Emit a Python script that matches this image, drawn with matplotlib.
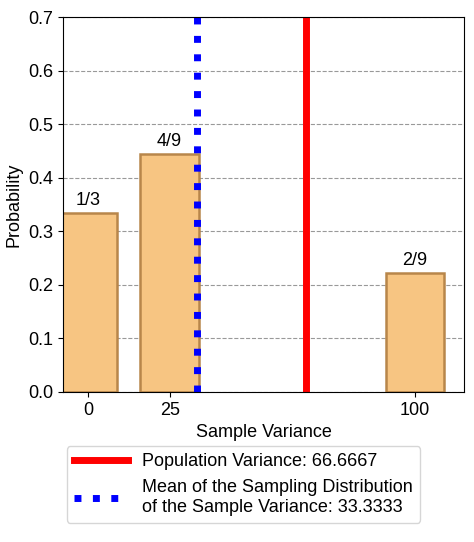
import matplotlib
matplotlib.use('Agg')
import matplotlib.pyplot as plt

plt.rcParams['font.family'] = ['Liberation Sans', 'DejaVu Sans']

variances = [0, 25, 100]
probs = [1/3, 4/9, 2/9]
labels = ['1/3', '4/9', '2/9']
pop_var = 66.6667
mean_sv = 33.3333

fig = plt.figure(figsize=(4.74, 5.42), dpi=100)
ax = fig.add_axes([63/474, 1-392/542, (464-63)/474, (392-17)/542])
ax.set_axisbelow(True)
ax.grid(axis='y', linestyle='--', color='gray', alpha=0.8)
bars = ax.bar(variances, probs, width=18, color='#f7c582', edgecolor='#b8864a', linewidth=1.8)
for b, lab in zip(bars, labels):
    ax.text(b.get_x() + b.get_width()/2, b.get_height() + 0.008, lab, ha='center', va='bottom', fontsize=13)
ax.axvline(pop_var, color='red', linewidth=5, label='Population Variance: 66.6667')
ax.axvline(mean_sv, color='blue', linewidth=5, linestyle=':',
           label='Mean of the Sampling Distribution\nof the Sample Variance: 33.3333')
ax.set_xticks(variances)
ax.set_xlim(-7.6, 115)
ax.set_ylim(0, 0.7)
ax.tick_params(labelsize=13)
ax.set_xlabel('Sample Variance', fontsize=13)
ax.set_ylabel('Probability', fontsize=13)
ax.legend(loc='upper center', bbox_to_anchor=(0.45, -0.12), fontsize=13, handlelength=3)
fig.savefig('out.png')
